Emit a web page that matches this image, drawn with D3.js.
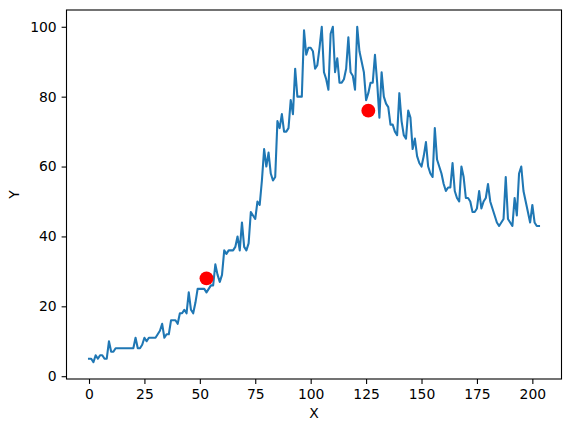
<!DOCTYPE html>
<html>
<head>
<meta charset="utf-8">
<script src="https://cdn.jsdelivr.net/npm/d3@7"></script>
<style>
  body { margin: 0; background: #fff; }
  text { font-family: "DejaVu Sans", sans-serif; fill: #000; }
</style>
</head>
<body>
<div id="body"></div>
<script>
// series values, one per x = 0, 1, 2 ...
let yValues = [
  5, 5, 4, 6, 5, 6, 6, 5, 5, 10,
  7, 7, 8, 8, 8, 8, 8, 8, 8, 8,
  8, 11, 8, 8, 9, 11, 10, 11, 11, 11,
  11, 12, 13, 15, 11, 12, 12, 16, 16, 16,
  15, 18, 18, 19, 18, 24, 19, 18, 21, 25,
  25, 25, 25, 24, 25, 26, 26, 32, 29, 27,
  29, 36, 35, 36, 36, 36, 37, 40, 36, 44,
  37, 36, 38, 47, 46, 45, 50, 49, 56, 65,
  60, 64, 58, 56, 57, 73, 71, 75, 70, 70,
  71, 79, 75, 88, 80, 80, 80, 99, 92, 94,
  94, 93, 88, 89, 94, 100, 87, 85, 82, 98,
  100, 87, 91, 84, 84, 85, 88, 97, 87, 86,
  82, 100, 93, 90, 87, 79, 81, 84, 84, 92,
  84, 74, 87, 80, 78, 77, 72, 72, 70, 69,
  81, 73, 69, 68, 76, 74, 65, 68, 63, 61,
  60, 63, 67, 60, 58, 57, 71, 62, 60, 58,
  55, 53, 54, 54, 61, 53, 51, 50, 60, 57,
  51, 51, 50, 47, 47, 48, 53, 48, 50, 51,
  55, 50, 48, 46, 44, 43, 44, 45, 57, 45,
  44, 43, 51, 46, 58, 60, 53, 50, 47, 44,
  49, 44, 43, 43
]

// highlighted points
let markX = [53, 126]
let markY = [28, 76]

// tick labels
let xTicks = [0, 25, 50, 75, 100, 125, 150, 175, 200]
let yTicks = [0, 20, 40, 60, 80, 100]

let data = yValues.map(function (v, i) {
  return { x: i, y: v }
})
let marks = markX.map(function (v, i) {
  return { x: v, y: markY[i] }
})

// set the dimensions and margins of the graph
let margin = {
    top: 10,
    right: 9.5,
    bottom: 53,
    left: 66.5
  },
  width = 571 - margin.left - margin.right,
  height = 432 - margin.top - margin.bottom;

let svg = d3.select("#body")
  .append("svg")
  .attr("width", 571)
  .attr("height", 432)
  .append("g")
  .attr("transform", "translate(" + margin.left + "," + margin.top + ")");

// matplotlib style 5% padding on both axes
let xMin = d3.min(data, d => d.x), xMax = d3.max(data, d => d.x)
let yMin = d3.min(data, d => d.y), yMax = d3.max(data, d => d.y)
let xPad = (xMax - xMin) * 0.05, yPad = (yMax - yMin) * 0.05

let x = d3.scaleLinear()
  .domain([xMin - xPad, xMax + xPad])
  .range([0, width]);
let y = d3.scaleLinear()
  .domain([yMin - yPad, yMax + yPad])
  .range([height, 0]);

// X axis
let xAxis = svg.append("g")
  .attr("transform", "translate(0," + height + ")")
  .call(d3.axisBottom(x).tickValues(xTicks).tickSize(4.9).tickPadding(4.9).tickSizeOuter(0))
xAxis.select(".domain").remove()
xAxis.selectAll(".tick line").attr("stroke", "#000").attr("stroke-width", 1.1)
xAxis.selectAll(".tick text").style("font-size", "13.9px").attr("fill", "#000")

// Y axis
let yAxis = svg.append("g")
  .call(d3.axisLeft(y).tickValues(yTicks).tickSize(4.9).tickPadding(4.9).tickSizeOuter(0))
yAxis.select(".domain").remove()
yAxis.selectAll(".tick line").attr("stroke", "#000").attr("stroke-width", 1.1)
yAxis.selectAll(".tick text").style("font-size", "13.9px").attr("fill", "#000")

// the line
svg.append("path")
  .datum(data)
  .attr("d", d3.line()
    .x(function (d) { return x(d.x) })
    .y(function (d) { return y(d.y) })
  )
  .attr("stroke", "#1f77b4")
  .style("stroke-width", 2.08)
  .style("stroke-linejoin", "round")
  .style("stroke-linecap", "square")
  .style("fill", "none")

// red dots
svg.selectAll("circle")
  .data(marks)
  .enter()
  .append("circle")
  .attr("cx", function (d) { return x(d.x) })
  .attr("cy", function (d) { return y(d.y) })
  .attr("r", 6.95)
  .style("fill", "red")

// frame
svg.append("rect")
  .attr("width", width)
  .attr("height", height)
  .attr("fill", "none")
  .attr("stroke", "#000")
  .attr("stroke-width", 1.1)

// axis labels
svg.append("text")
  .attr("x", width / 2)
  .attr("y", height + 39)
  .attr("text-anchor", "middle")
  .style("font-size", "13.9px")
  .text("X")

svg.append("text")
  .attr("transform", "translate(" + (-47.5) + "," + (height / 2) + ") rotate(-90)")
  .attr("text-anchor", "middle")
  .style("font-size", "13.9px")
  .text("Y")
</script>
</body>
</html>
